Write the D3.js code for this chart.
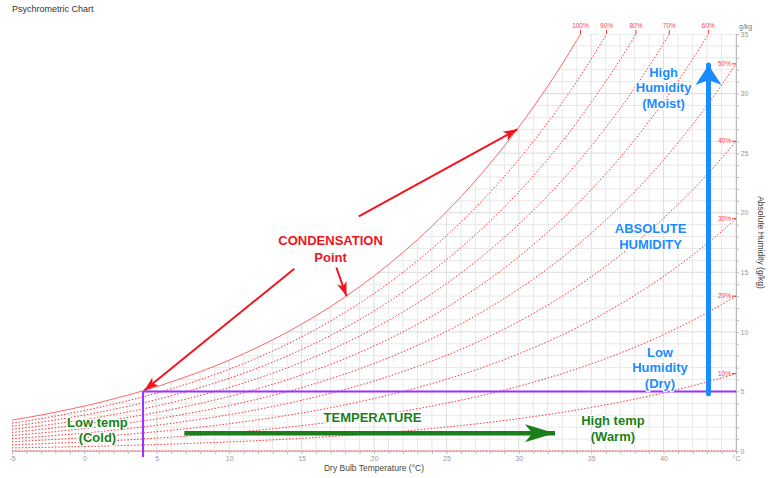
<!DOCTYPE html>
<html><head><meta charset="utf-8">
<script src="https://cdn.jsdelivr.net/npm/d3@7"></script>
<style>
body{margin:0;background:#fff;font-family:"Liberation Sans",Arial,sans-serif;}
svg{display:block}
.ann{font-weight:bold;font-size:13px;text-anchor:middle;paint-order:stroke;stroke:#fff;stroke-width:2.5px;stroke-linejoin:round}
</style></head><body>
<svg id="c" width="768" height="478"></svg>
<script>
// ---- data ----
const temps = d3.range(-5, 46); // dry bulb °C
// saturation absolute humidity (g/kg) at each temperature
const satHumidity = [2.60,2.80,3.02,3.26,3.51,3.77,4.06,4.37,4.69,5.04,5.40,5.80,6.22,6.66,7.13,7.63,8.16,8.73,9.33,9.96,10.65,11.36,12.12,12.93,13.78,14.69,15.65,16.67,17.74,18.87,20.07,21.34,22.68,24.10,25.60,27.19,28.86,30.62,32.48,34.46,36.55,38.75,41.07,43.52,46.12,48.86,51.75,54.80,58.02,61.42,64.99];
const rhLevels = [1.0,0.9,0.8,0.7,0.6,0.5,0.4,0.3,0.2,0.1];
const rhLabels = ["100%","90%","80%","70%","60%","50%","40%","30%","20%","10%"];
const xTickLabels = ["-5","0","5","10","15","20","25","30","35","40","°C"];
const yTickLabels = ["0","5","10","15","20","25","30","35"];

const svg = d3.select("#c");
const x = d3.scaleLinear().domain([-5,45]).range([12,736]);
const y = d3.scaleLinear().domain([0,35]).range([451,34]);

// title
svg.append("text").attr("x",12).attr("y",12).attr("font-size",9).attr("fill","#333").text("Psychrometric Chart");

const defs = svg.append("defs");
defs.append("clipPath").attr("id","plot").append("rect")
  .attr("x",x(-5)).attr("y",y(35)).attr("width",x(45)-x(-5)).attr("height",y(0)-y(35));
const satPts = temps.map((t,i)=>[t,Math.min(satHumidity[i],35)]);
const areaGen = d3.area().x(d=>x(d[0])).y0(y(0)).y1(d=>y(d[1])).curve(d3.curveMonotoneX);
defs.append("clipPath").attr("id","under").append("path").attr("d",areaGen(satPts));

// grid under saturation curve
const grid = svg.append("g").attr("clip-path","url(#under)");
grid.selectAll("line.v").data(d3.range(-5,46)).join("line")
  .attr("x1",d=>x(d)).attr("x2",d=>x(d)).attr("y1",y(0)).attr("y2",y(35))
  .attr("stroke",d=>d%5===0?"#dcdcdc":"#e8e8e8").attr("stroke-width",1);
grid.selectAll("line.h").data(d3.range(0,36)).join("line")
  .attr("x1",x(-5)).attr("x2",x(45)).attr("y1",d=>y(d)).attr("y2",d=>y(d))
  .attr("stroke",d=>d%5===0?"#dcdcdc":"#e8e8e8").attr("stroke-width",1);

// axes
const xAxis = d3.axisBottom(x).tickValues(d3.range(-5,46)).tickSize(3).tickFormat(d=>d%5===0?xTickLabels[(d+5)/5]:"");
const gx = svg.append("g").attr("transform",`translate(0,${y(0)})`).call(xAxis);
gx.select(".domain").attr("stroke","#bbb");
gx.selectAll(".tick line").attr("stroke","#bbb");
gx.selectAll(".tick text").attr("fill","#999").attr("font-size",7).attr("font-family","Liberation Sans, Arial").attr("dy","0.5em");

const yAxis = d3.axisRight(y).tickValues(d3.range(0,36)).tickSize(3).tickFormat(d=>d%5===0?yTickLabels[d/5]:"");
const gy = svg.append("g").attr("transform",`translate(${x(45)},0)`).call(yAxis);
gy.select(".domain").attr("stroke","#bbb");
gy.selectAll(".tick line").attr("stroke","#bbb");
gy.selectAll(".tick text").attr("fill","#999").attr("font-size",7).attr("font-family","Liberation Sans, Arial").attr("dx","-0.2em");
svg.append("text").attr("x",x(45)+3).attr("y",y(35)-5).attr("font-size",7).attr("fill","#777").text("g/kg");
svg.append("text").attr("transform",`translate(758,${(y(0)+y(35))/2}) rotate(90)`).attr("text-anchor","middle")
  .attr("font-size",8.5).attr("fill","#444").text("Absolute Humidity (g/kg)");
svg.append("text").attr("x",(x(-5)+x(45))/2).attr("y",471).attr("text-anchor","middle")
  .attr("font-size",8.5).attr("fill","#444").text("Dry Bulb Temperature (°C)");

// RH curves
const line = d3.line().x(d=>x(d[0])).y(d=>y(d[1])).curve(d3.curveMonotoneX);
const curves = svg.append("g").attr("clip-path","url(#plot)");
curves.append("path").attr("d",line(temps.map(t=>[t,0]))).attr("fill","none")
  .attr("stroke","#f33").attr("stroke-width",1).attr("stroke-dasharray","1.5,1.5");
rhLevels.forEach((rh,k)=>{
  const pts = temps.map((t,i)=>[t,rh*satHumidity[i]]);
  curves.append("path").attr("d",line(pts)).attr("fill","none")
    .attr("stroke",k===0?"#f66":"#f33").attr("stroke-width",1)
    .attr("stroke-dasharray",k===0?null:"1.5,1.8");
  // label
  const last = rh*satHumidity[satHumidity.length-1];
  if(last>35){
    let i=pts.findIndex(p=>p[1]>=35);
    const a=pts[i-1],b=pts[i];
    const tc=a[0]+(35-a[1])/(b[1]-a[1])*(b[0]-a[0]);
    svg.append("line").attr("x1",x(tc)).attr("x2",x(tc)).attr("y1",y(35)-4).attr("y2",y(35)).attr("stroke","#f33");
    svg.append("text").attr("x",x(tc)).attr("y",y(35)-6).attr("text-anchor","middle").attr("font-size",6.5).attr("fill","#f44").text(rhLabels[k]);
  } else {
    svg.append("line").attr("x1",x(45)-4).attr("x2",x(45)).attr("y1",y(last)).attr("y2",y(last)).attr("stroke","#f33");
    svg.append("text").attr("x",x(45)-5).attr("y",y(last)+2).attr("text-anchor","end").attr("font-size",6.5).attr("fill","#f44").text(rhLabels[k]);
  }
});

// ---- annotations ----
const red="#f0141e", green="#1a7f1a", blue="#1a8cff", purple="#9b30ff";
function marker(id,color,w,h){
  defs.append("marker").attr("id",id).attr("markerUnits","userSpaceOnUse")
    .attr("viewBox",`0 0 ${w} ${h}`).attr("refX",w).attr("refY",h/2)
    .attr("markerWidth",w).attr("markerHeight",h).attr("orient","auto")
    .append("path").attr("d",`M0,0L${w},${h/2}L0,${h}L${w*0.25},${h/2}Z`).attr("fill",color);
}
marker("mr",red,14,10);
marker("mg",green,30,18);
marker("mb",blue,20,26);

// purple lines
const purpleT = 4.05, purpleW = 5;
svg.append("line").attr("x1",x(purpleT)).attr("x2",x(45)).attr("y1",y(purpleW)).attr("y2",y(purpleW))
  .attr("stroke",purple).attr("stroke-width",2);
svg.append("line").attr("x1",x(purpleT)).attr("x2",x(purpleT)).attr("y1",y(-0.5)).attr("y2",y(purpleW))
  .attr("stroke",purple).attr("stroke-width",2);

// red arrows [t1,w1,t2,w2]
const redArrows = [[18.95,19.7,29.9,27.0],[14.5,15.3,4.15,5.1],[17.4,15.4,18.1,13.0]];
redArrows.forEach(a=>{
  svg.append("line").attr("x1",x(a[0])).attr("y1",y(a[1])).attr("x2",x(a[2])).attr("y2",y(a[3]))
    .attr("stroke",red).attr("stroke-width",2).attr("marker-end","url(#mr)");
});
// green arrow
svg.append("line").attr("x1",x(6.9)).attr("x2",x(32.5)).attr("y1",y(1.5)).attr("y2",y(1.5))
  .attr("stroke",green).attr("stroke-width",4.5).attr("marker-end","url(#mg)");
// blue arrow
svg.append("line").attr("x1",x(43.1)).attr("x2",x(43.1)).attr("y1",y(4.8)).attr("y2",y(32.4))
  .attr("stroke",blue).attr("stroke-width",5).attr("stroke-linecap","round").attr("marker-end","url(#mb)");

// texts [t,w,lines,color,lineSpacing]
const notes = [
  [17.0,17.3,["CONDENSATION","Point"],red,"1.3em"],
  [0.9,2.05,["Low temp","(Cold)"],green,"1.2em"],
  [19.9,2.4,["TEMPERATURE"],green,"1.2em"],
  [36.5,2.15,["High temp","(Warm)"],green,"1.2em"],
  [40.0,31.4,["High","Humidity","(Moist)"],blue,"1.2em"],
  [39.1,18.3,["ABSOLUTE","HUMIDITY"],blue,"1.2em"],
  [39.75,7.9,["Low","Humidity","(Dry)"],blue,"1.2em"]
];
notes.forEach(n=>{
  const t = svg.append("text").attr("class","ann").attr("x",x(n[0])).attr("y",y(n[1])).attr("fill",n[3]);
  n[2].forEach((s,i)=>t.append("tspan").attr("x",x(n[0])).attr("dy",i===0?0:n[4]).text(s));
});
</script></body></html>
